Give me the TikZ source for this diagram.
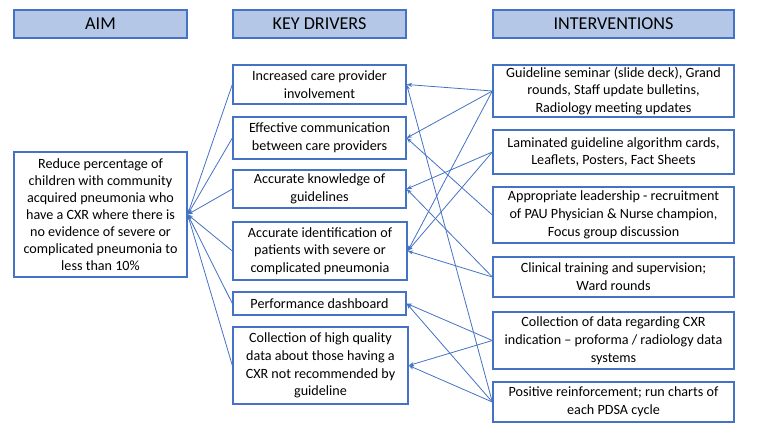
\documentclass[tikz,border=0pt]{standalone}
\usepackage{fontspec}
\setmainfont{Carlito}
\usetikzlibrary{arrows.meta}
\definecolor{bd}{HTML}{4472C4}
\definecolor{hd}{HTML}{B4C7E7}
\begin{document}
\begin{tikzpicture}[x=0.75pt,y=-0.75pt,
  box/.style={draw=bd,line width=1pt,align=center,inner sep=0pt,font=\fontsize{10.6}{13.3}\selectfont},
  hdr/.style={box,fill=hd,font=\fontsize{13.6}{15}\selectfont},
  ln/.style={draw=bd,line width=0.6pt,-{Stealth[length=4pt,width=3pt]}}]
\useasboundingbox (0,0) rectangle (768,433);
\newcommand{\bx}[6]{\node[#1,minimum width=(#4-#2)*0.75pt,minimum height=(#5-#3)*0.75pt] (#6) at ({(#2+#4)/2},{(#3+#5)/2})}
\bx{hdr}{14}{10}{187}{38}{h1} {AIM};
\bx{hdr}{233}{10}{406}{38}{h2} {KEY DRIVERS};
\bx{hdr}{493}{10}{734}{38}{h3} {INTERVENTIONS};
\bx{box,font=\fontsize{10.6}{12.8}\selectfont}{14}{152}{187}{277}{aim} {Reduce percentage of\\children with community\\acquired pneumonia who\\have a CXR where there is\\no evidence of severe or\\complicated pneumonia to\\less than 10\%};
\bx{box}{233}{65}{406}{104}{d1} {Increased care provider\\involvement};
\bx{box}{233}{117}{406}{159}{d2} {Effective communication\\between care providers};
\bx{box}{233}{170}{406}{208}{d3} {Accurate knowledge of\\guidelines};
\bx{box}{233}{222}{407}{280}{d4} {Accurate identification of\\patients with severe or\\complicated pneumonia};
\bx{box}{233}{292}{406}{315}{d5} {Performance dashboard};
\bx{box}{233}{327}{408}{404}{d6} {Collection of high quality\\data about those having a\\CXR not recommended by\\guideline};
\bx{box}{493}{65}{734}{117}{i1} {Guideline seminar (slide deck), Grand\\rounds, Staff update bulletins,\\Radiology meeting updates};
\bx{box}{493}{130}{734}{174}{i2} {Laminated guideline algorithm cards,\\Leaflets, Posters, Fact Sheets};
\bx{box}{493}{187}{734}{243}{i3} {Appropriate leadership - recruitment\\of PAU Physician \& Nurse champion,\\Focus group discussion};
\bx{box}{493}{257}{734}{297}{i4} {Clinical training and supervision;\\Ward rounds};
\bx{box}{493}{312}{734}{369}{i5} {Collection of data regarding CXR\\indication -- proforma / radiology data\\systems};
\bx{box}{493}{382}{734}{422}{i6} {Positive reinforcement; run charts of\\each PDSA cycle};
\foreach \d in {d1,d2,d3,d4,d5,d6} \draw[ln] (\d.west) -- (aim.east);
\foreach \i/\d in {i1/d1,i1/d2,i1/d4,i2/d3,i2/d4,i3/d2,i4/d3,i4/d4,i5/d5,i5/d6,i6/d1,i6/d5,i6/d6}
  \draw[ln] (\i.west) -- (\d.east);
\end{tikzpicture}
\end{document}
